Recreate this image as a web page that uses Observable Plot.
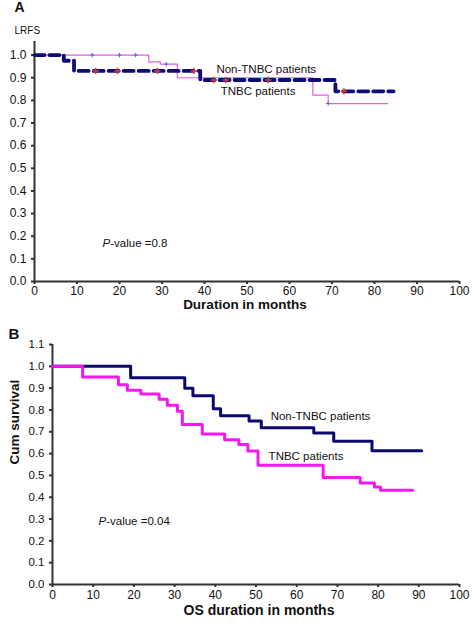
<!DOCTYPE html>
<html>
<head>
<meta charset="utf-8">
<script src="https://cdn.jsdelivr.net/npm/d3@7"></script>
<script src="https://cdn.jsdelivr.net/npm/@observablehq/plot@0.6"></script>
<style>
  html, body { margin: 0; padding: 0; background: #fff; }
  #chart { position: relative; width: 474px; height: 638px; background: #fff; overflow: hidden; }
  #chart svg { position: absolute; left: 0; }
</style>
</head>
<body>
<div id="chart"></div>
<script>
// ---------- tick labels ----------
const xTicks = [0, 10, 20, 30, 40, 50, 60, 70, 80, 90, 100];
const yTicksA = [0, 0.1, 0.2, 0.3, 0.4, 0.5, 0.6, 0.7, 0.8, 0.9, 1.0];
const yTicksB = [0, 0.1, 0.2, 0.3, 0.4, 0.5, 0.6, 0.7, 0.8, 0.9, 1.0, 1.1];

// ---------- Panel A: LRFS ----------
const lrfsNonTime = [0, 6.9, 9.3, 39, 70.8, 84.5];
const lrfsNonSurv = [1.0, 0.975, 0.93, 0.89, 0.84, 0.84];
const lrfsTnbcTime = [0, 26.9, 29.6, 33.6, 65.5, 69.1, 83.1];
const lrfsTnbcSurv = [1.0, 0.97, 0.96, 0.90, 0.823, 0.786, 0.786];
const lrfsNonCensor = [14.4, 19.5, 28.9, 37.5, 42.2, 45, 55, 72.8];
const lrfsTnbcCensor = [13.6, 20, 23.8, 31, 69.1];

// ---------- Panel B: OS ----------
const osNonTime = [0, 19.2, 32.5, 34.5, 39.5, 41.3, 48.3, 51.3, 64.2, 69.1, 78.5, 90.7];
const osNonSurv = [1.0, 0.948, 0.90, 0.865, 0.805, 0.774, 0.749, 0.719, 0.694, 0.656, 0.613, 0.613];
const osTnbcTime = [0, 7.4, 16.2, 18.4, 21.7, 26.2, 28.2, 30.7, 31.9, 36.8, 42.3, 45.8, 48, 50.5, 66.5, 75.6, 79.1, 80.6, 88.5];
const osTnbcSurv = [1.0, 0.951, 0.916, 0.89, 0.873, 0.849, 0.821, 0.794, 0.733, 0.69, 0.664, 0.642, 0.612, 0.546, 0.49, 0.465, 0.447, 0.432, 0.432];

// ---------- labels ----------
const groupLabels = ["Non-TNBC patients", "TNBC patients"];
const pValueA = "0.8";
const pValueB = "0.04";

// ---------- helpers ----------
const zip = (t, s) => t.map((x, i) => ({t: x, s: s[i]}));
const stepAt = (times, surv, x) => { let v = surv[0]; for (let i = 0; i < times.length; i++) if (times[i] <= x) v = surv[i]; return v; };
const censorPts = (c, times, surv) => c.map(x => ({t: x, s: stepAt(times, surv, x)}));

const FONT = "'Liberation Sans', Arial, Helvetica, sans-serif";
const AXIS = "#333";
const NAVY = "#0d0d78";
const PINK_THIN = "#e45ce4";
const NAVY_B = "#0a0a6e";
const MAG_B = "#f418f0";

function pLabel(x, y, val) {
  return [
    Plot.text([{t: x, s: y}], {x: "t", y: "s", text: () => "P", textAnchor: "start", fontStyle: "italic", fontSize: 11.5, fill: "#111"}),
    Plot.text([{t: x, s: y}], {x: "t", y: "s", text: () => "-value =" + val, textAnchor: "start", dx: 7.7, fontSize: 11.5, fill: "#111"})
  ];
}

// ---------- Plot A ----------
const plotA = Plot.plot({
  width: 474, height: 320,
  marginLeft: 34, marginRight: 15, marginTop: 41, marginBottom: 39,
  style: {fontFamily: FONT, fontSize: "12px", color: "#111", background: "transparent", overflow: "visible"},
  x: {domain: [0, 100]},
  y: {domain: [0, 1.06]},
  marks: [
    Plot.axisX({ticks: xTicks, tickSize: 3, tickPadding: 2, label: null, stroke: AXIS, strokeWidth: 2, fontSize: 12}),
    Plot.axisY({ticks: yTicksA, tickSize: 3, tickPadding: 5, tickFormat: d => d.toFixed(1), label: null, stroke: AXIS, strokeWidth: 2, fontSize: 12}),
    Plot.ruleX([0], {y1: 0, y2: 1.06, stroke: AXIS, strokeWidth: 2}),
    Plot.ruleY([0], {x1: 0, x2: 100, stroke: AXIS, strokeWidth: 2}),
    Plot.line(zip(lrfsTnbcTime, lrfsTnbcSurv), {x: "t", y: "s", curve: "step-after", stroke: PINK_THIN, strokeWidth: 1.2}),
    Plot.line(zip(lrfsNonTime, lrfsNonSurv), {x: "t", y: "s", curve: "step-after", stroke: NAVY, strokeWidth: 3.8, strokeDasharray: "10,5"}),
    Plot.dot(censorPts(lrfsNonCensor, lrfsNonTime, lrfsNonSurv), {x: "t", y: "s", symbol: "plus", r: 2.2, stroke: "#e03838", strokeWidth: 1.5}),
    Plot.dot(censorPts(lrfsTnbcCensor, lrfsTnbcTime, lrfsTnbcSurv), {x: "t", y: "s", symbol: "plus", r: 1.6, stroke: "#5a6ad8", strokeWidth: 1}),
    Plot.text([{t: 42.8, s: 0.938}], {x: "t", y: "s", text: () => groupLabels[0], textAnchor: "start", fontSize: 11.5, fill: "#111"}),
    Plot.text([{t: 43.8, s: 0.838}], {x: "t", y: "s", text: () => groupLabels[1], textAnchor: "start", fontSize: 11.5, fill: "#111"}),
    ...pLabel(16, 0.168, pValueA),
    Plot.text(["Duration in months"], {frameAnchor: "bottom", dy: 27, dx: -2, fontWeight: "bold", fontSize: 13.5, fill: "#111"}),
    Plot.text(["A"], {frameAnchor: "top-left", dx: -20, dy: -39, textAnchor: "start", lineAnchor: "top", fontWeight: "bold", fontSize: 14, fill: "#111"}),
    Plot.text(["LRFS"], {frameAnchor: "top-left", dx: -20, dy: -8, textAnchor: "start", lineAnchor: "bottom", fontSize: 10, fill: "#111"})
  ]
});
plotA.style.top = "0px";

// ---------- Plot B ----------
const plotB = Plot.plot({
  width: 474, height: 318,
  marginLeft: 52, marginRight: 15, marginTop: 24, marginBottom: 54,
  style: {fontFamily: FONT, fontSize: "12px", color: "#111", background: "transparent", overflow: "visible"},
  x: {domain: [0, 100]},
  y: {domain: [0, 1.1]},
  marks: [
    Plot.axisX({ticks: xTicks, tickSize: 3, tickPadding: 3, label: null, stroke: AXIS, strokeWidth: 2, fontSize: 12}),
    Plot.axisY({ticks: yTicksB, tickSize: 3, tickPadding: 5, tickFormat: d => d.toFixed(1), label: null, stroke: AXIS, strokeWidth: 2, fontSize: 11.5}),
    Plot.ruleX([0], {y1: 0, y2: 1.1, stroke: AXIS, strokeWidth: 2}),
    Plot.ruleY([0], {x1: 0, x2: 100, stroke: AXIS, strokeWidth: 2}),
    Plot.line(zip(osNonTime, osNonSurv), {x: "t", y: "s", curve: "step-after", stroke: NAVY_B, strokeWidth: 3}),
    Plot.line(zip(osTnbcTime, osTnbcSurv), {x: "t", y: "s", curve: "step-after", stroke: MAG_B, strokeWidth: 3}),
    Plot.text([{t: 53.6, s: 0.772}], {x: "t", y: "s", text: () => groupLabels[0], textAnchor: "start", fontSize: 11.5, fill: "#111"}),
    Plot.text([{t: 53.1, s: 0.589}], {x: "t", y: "s", text: () => groupLabels[1], textAnchor: "start", fontSize: 11.5, fill: "#111"}),
    ...pLabel(11.3, 0.29, pValueB),
    Plot.text(["OS duration in months"], {frameAnchor: "bottom", dy: 30, dx: 3, fontWeight: "bold", fontSize: 14, fill: "#111"}),
    Plot.text(["Cum survival"], {frameAnchor: "left", dx: -38, rotate: -90, fontWeight: "bold", fontSize: 13.5, fill: "#111"}),
    Plot.text(["B"], {frameAnchor: "top-left", dx: -44, dy: -6, textAnchor: "start", lineAnchor: "bottom", fontWeight: "bold", fontSize: 15, fill: "#111"})
  ]
});
plotB.style.top = "320px";

const chart = document.getElementById("chart");
chart.appendChild(plotA);
chart.appendChild(plotB);
</script>
</body>
</html>
